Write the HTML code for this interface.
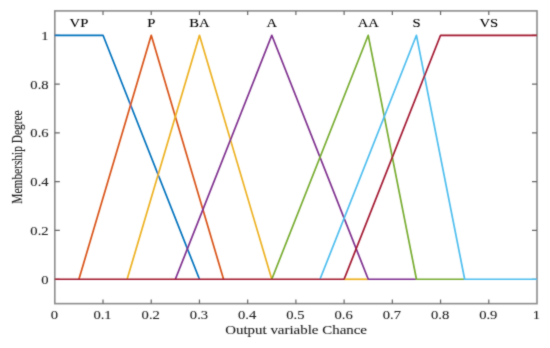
<!DOCTYPE html>
<html><head><meta charset="utf-8"><style>html,body{margin:0;padding:0;background:#fff;width:550px;height:348px;overflow:hidden}svg{display:block}</style></head>
<body>
<svg width="550" height="348" viewBox="0 0 550 348">
<rect width="550" height="348" fill="#fff"/>
<filter id="b" x="0" y="0" width="550" height="348" filterUnits="userSpaceOnUse"><feConvolveMatrix order="3" kernelMatrix="0.03 0.08 0.03 0.08 0.56 0.08 0.03 0.08 0.03" divisor="1" edgeMode="none" preserveAlpha="false"/></filter>
<g filter="url(#b)">
<rect x="54.80" y="10.90" width="482.20" height="292.74" fill="none" stroke="#8c8c8c" stroke-width="1.6"/>
<path d="M103.02,303.64V299.44M103.02,10.90V15.10M151.24,303.64V299.44M151.24,10.90V15.10M199.46,303.64V299.44M199.46,10.90V15.10M247.68,303.64V299.44M247.68,10.90V15.10M295.90,303.64V299.44M295.90,10.90V15.10M344.12,303.64V299.44M344.12,10.90V15.10M392.34,303.64V299.44M392.34,10.90V15.10M440.56,303.64V299.44M440.56,10.90V15.10M488.78,303.64V299.44M488.78,10.90V15.10M54.80,279.25H59.80M537.00,279.25H532.00M54.80,230.46H59.80M537.00,230.46H532.00M54.80,181.67H59.80M537.00,181.67H532.00M54.80,132.88H59.80M537.00,132.88H532.00M54.80,84.09H59.80M537.00,84.09H532.00M54.80,35.30H59.80M537.00,35.30H532.00" stroke="#666" stroke-width="1.2" fill="none"/>
<polyline points="54.80,35.30 103.02,35.30 199.46,279.25" fill="none" stroke="#0072BD" stroke-width="1.7" stroke-linejoin="round"/>
<polyline points="78.91,279.25 151.24,35.30 223.57,279.25" fill="none" stroke="#D95319" stroke-width="1.7" stroke-linejoin="round"/>
<polyline points="127.13,279.25 199.46,35.30 271.79,279.25" fill="none" stroke="#EDB120" stroke-width="1.7" stroke-linejoin="round"/>
<polyline points="344.12,279.25 368.23,279.25" fill="none" stroke="#EDB120" stroke-width="1.7" stroke-linejoin="round"/>
<polyline points="175.35,279.25 271.79,35.30 368.23,279.25 416.45,279.25" fill="none" stroke="#7E2F8E" stroke-width="1.7" stroke-linejoin="round"/>
<polyline points="271.79,279.25 368.23,35.30 416.45,279.25 464.67,279.25" fill="none" stroke="#77AC30" stroke-width="1.7" stroke-linejoin="round"/>
<polyline points="320.01,279.25 416.45,35.30 464.67,279.25 537.00,279.25" fill="none" stroke="#4DBEEE" stroke-width="1.7" stroke-linejoin="round"/>
<polyline points="54.80,279.25 344.12,279.25 440.56,35.30 537.00,35.30" fill="none" stroke="#A2142F" stroke-width="1.7" stroke-linejoin="round"/>
<g font-family="'Liberation Serif', serif" fill="#222" stroke="#222" stroke-width="0.1">
<text transform="translate(78.91 27.30) scale(1.16 1)" text-anchor="middle" font-size="12.6" fill="#000" stroke="#000" stroke-width="0.12">VP</text>
<text transform="translate(151.24 27.30) scale(1.16 1)" text-anchor="middle" font-size="12.6" fill="#000" stroke="#000" stroke-width="0.12">P</text>
<text transform="translate(199.46 27.30) scale(1.16 1)" text-anchor="middle" font-size="12.6" fill="#000" stroke="#000" stroke-width="0.12">BA</text>
<text transform="translate(271.79 27.30) scale(1.16 1)" text-anchor="middle" font-size="12.6" fill="#000" stroke="#000" stroke-width="0.12">A</text>
<text transform="translate(368.23 27.30) scale(1.16 1)" text-anchor="middle" font-size="12.6" fill="#000" stroke="#000" stroke-width="0.12">AA</text>
<text transform="translate(416.45 27.30) scale(1.16 1)" text-anchor="middle" font-size="12.6" fill="#000" stroke="#000" stroke-width="0.12">S</text>
<text transform="translate(488.78 27.30) scale(1.16 1)" text-anchor="middle" font-size="12.6" fill="#000" stroke="#000" stroke-width="0.12">VS</text>
<text transform="translate(48.60 283.85) scale(1.16 1)" text-anchor="end" font-size="12.6">0</text>
<text transform="translate(48.60 235.06) scale(1.16 1)" text-anchor="end" font-size="12.6">0.2</text>
<text transform="translate(48.60 186.27) scale(1.16 1)" text-anchor="end" font-size="12.6">0.4</text>
<text transform="translate(48.60 137.48) scale(1.16 1)" text-anchor="end" font-size="12.6">0.6</text>
<text transform="translate(48.60 88.69) scale(1.16 1)" text-anchor="end" font-size="12.6">0.8</text>
<text transform="translate(48.60 39.90) scale(1.16 1)" text-anchor="end" font-size="12.6">1</text>
<text transform="translate(54.30 319.20) scale(1.16 1)" text-anchor="middle" font-size="12.6">0</text>
<text transform="translate(102.52 319.20) scale(1.16 1)" text-anchor="middle" font-size="12.6">0.1</text>
<text transform="translate(150.74 319.20) scale(1.16 1)" text-anchor="middle" font-size="12.6">0.2</text>
<text transform="translate(198.96 319.20) scale(1.16 1)" text-anchor="middle" font-size="12.6">0.3</text>
<text transform="translate(247.18 319.20) scale(1.16 1)" text-anchor="middle" font-size="12.6">0.4</text>
<text transform="translate(295.40 319.20) scale(1.16 1)" text-anchor="middle" font-size="12.6">0.5</text>
<text transform="translate(343.62 319.20) scale(1.16 1)" text-anchor="middle" font-size="12.6">0.6</text>
<text transform="translate(391.84 319.20) scale(1.16 1)" text-anchor="middle" font-size="12.6">0.7</text>
<text transform="translate(440.06 319.20) scale(1.16 1)" text-anchor="middle" font-size="12.6">0.8</text>
<text transform="translate(488.28 319.20) scale(1.16 1)" text-anchor="middle" font-size="12.6">0.9</text>
<text transform="translate(536.50 319.20) scale(1.16 1)" text-anchor="middle" font-size="12.6">1</text>
<text transform="translate(296.10 334.20) scale(1.225 1)" text-anchor="middle" font-size="12.2">Output variable Chance</text>
<text transform="translate(22.2 157.0) scale(1.3 1) rotate(-90)" text-anchor="middle" font-size="11.4">Membership Degree</text>
</g>
</g>
</svg>
</body></html>
